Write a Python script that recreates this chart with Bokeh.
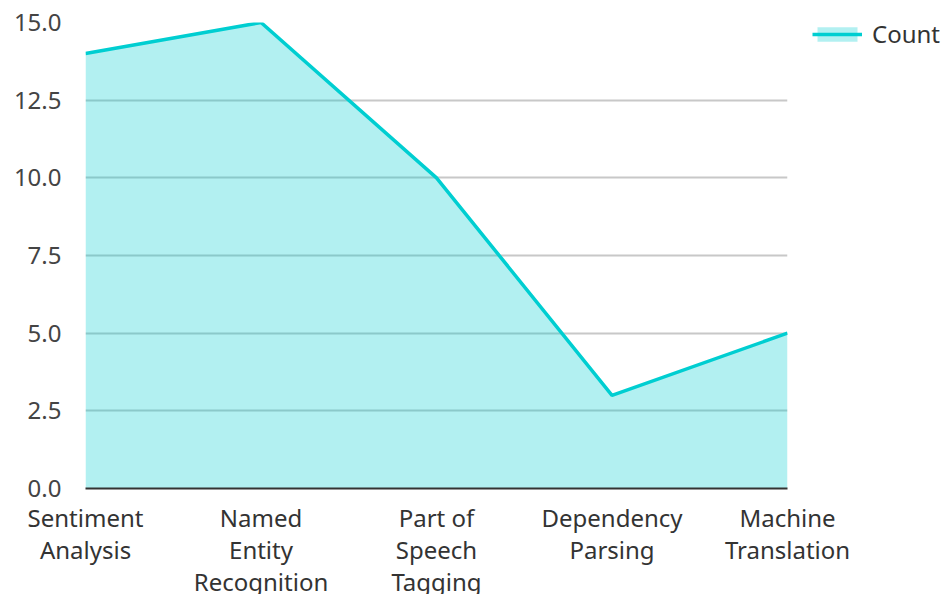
from bokeh.plotting import figure
from bokeh.models import Range1d, FixedTicker, NumeralTickFormatter, Legend, LegendItem, ColumnDataSource
from bokeh.embed import file_html
from bokeh.resources import INLINE

categories = ["Sentiment\nAnalysis", "Named\nEntity\nRecognition", "Part of\nSpeech\nTagging",
              "Dependency\nParsing", "Machine\nTranslation"]
counts = [14, 15, 10, 3, 5]
y_ticks = [0, 2.5, 5, 7.5, 10, 12.5, 15]
series_name = "Count"

FONT = "Noto Sans"
LINE_COLOR = "#00CED1"

xs = list(range(len(categories)))
src = ColumnDataSource(dict(x=xs, y=counts, y0=[0] * len(xs)))

p = figure(frame_width=702, frame_height=466,
           x_range=Range1d(0, len(categories) - 1), y_range=Range1d(0, 15),
           output_backend="svg", toolbar_location=None,
           min_border_left=78, min_border_top=22, min_border_right=150, min_border_bottom=10)
p.margin = (0, 0, 0, 7)
p.outline_line_color = None

area = p.varea(x="x", y1="y0", y2="y", source=src, fill_color=LINE_COLOR, fill_alpha=0.3)
line = p.line(x="x", y="y", source=src, line_color=LINE_COLOR, line_width=3.5)

# axes
p.xaxis.ticker = FixedTicker(ticks=xs)
p.xaxis.major_label_overrides = {i: c for i, c in enumerate(categories)}
p.xaxis.axis_line_color = "#333333"
p.xaxis.axis_line_width = 2
p.xaxis.major_tick_line_color = None
p.xaxis.minor_tick_line_color = None
p.xaxis.major_label_standoff = 6
p.xaxis.major_label_text_font = FONT
p.xaxis.major_label_text_font_size = "24px"
p.xaxis.major_label_text_line_height = 0.98
p.xaxis.major_label_text_color = "#333333"

p.yaxis.ticker = FixedTicker(ticks=y_ticks)
p.yaxis.formatter = NumeralTickFormatter(format="0.0")
p.yaxis.axis_line_color = None
p.yaxis.major_tick_line_color = None
p.yaxis.minor_tick_line_color = None
p.yaxis.major_label_standoff = 18
p.yaxis.major_label_text_font = FONT
p.yaxis.major_label_text_font_size = "24px"
p.yaxis.major_label_text_color = "#444444"

p.xgrid.grid_line_color = None
p.ygrid.grid_line_color = "#c8c8c8"
p.ygrid.grid_line_width = 2

legend = Legend(items=[LegendItem(label=series_name, renderers=[area, line])],
                orientation="vertical",
                border_line_color=None, background_fill_alpha=0,
                label_text_font=FONT, label_text_font_size="24px", label_text_color="#333333",
                glyph_width=50, glyph_height=18, label_standoff=10,
                margin=0, padding=0)
legend.location = (25, 438)
p.add_layout(legend, "right")

open("out.html", "w").write(file_html(p, INLINE))
